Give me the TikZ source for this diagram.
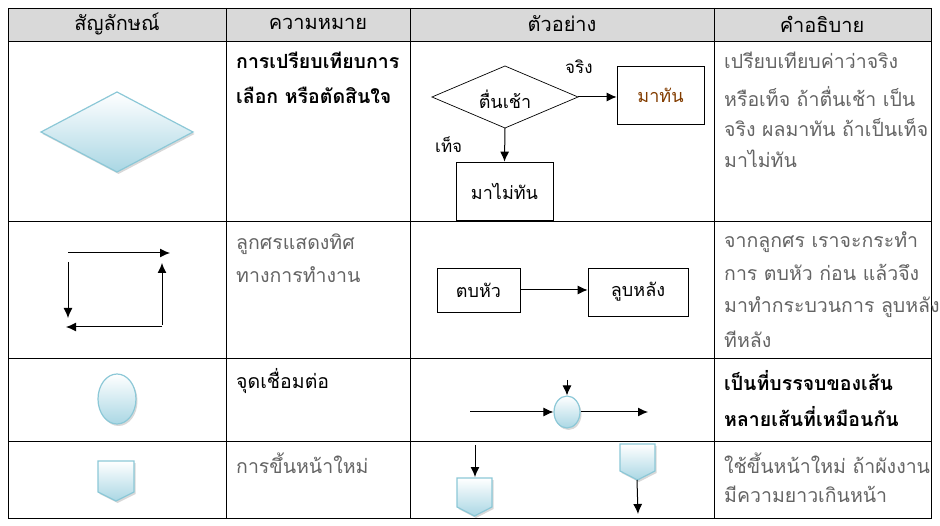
\documentclass[tikz,border=0pt]{standalone}
\usepackage{fontspec}
\setmainfont{Loma}[Script=Thai]
\usetikzlibrary{shadows,arrows.meta,shapes.geometric}
\definecolor{sym}{RGB}{140,200,215}
\definecolor{symfill}{RGB}{170,215,228}
\definecolor{hdr}{RGB}{217,217,217}
\definecolor{txtgrey}{RGB}{100,100,100}
\tikzset{
  grid/.style={line width=0.9pt},
  symshape/.style={draw=sym,line width=1.2pt,top color=white,bottom color=symfill,drop shadow={shadow xshift=1.5pt,shadow yshift=-2pt,fill=gray!60}},
  ex/.style={draw,line width=0.7pt,minimum height=44pt,font=\fontsize{18}{20}\selectfont},
  arr/.style={-{Latex[length=10pt,width=9pt]},line width=1pt},
  hd/.style={font=\fontsize{20}{22}\selectfont},
  tx/.style={anchor=west,inner sep=0pt,font=\fontsize{19.5}{21}\selectfont},
  bx/.style={anchor=west,inner sep=0pt,font=\fontsize{19.5}{21}\selectfont\bfseries},
}
\begin{document}
\begin{tikzpicture}[x=1pt,y=-1pt]
\useasboundingbox (0,0) rectangle (940,526);
\fill[hdr] (8,8) rectangle (931,41);
\draw[grid] (8,8) rectangle (931,518);
\foreach \y in {41,221,358,441} \draw[grid] (8,\y) -- (931,\y);
\foreach \x in {226,410,714} \draw[grid] (\x,8) -- (\x,518);
\node[hd] (h1) at (117,24) {สัญลักษณ์};
\node[hd] (h2) at (318,24) {ความหมาย};
\node[hd] (h3) at (562,24) {ตัวอย่าง};
\node[hd] (h4) at (822,24) {คำอธิบาย};
% row 1
\path[symshape] (41,132) -- (117,92) -- (193,132) -- (117,172) -- cycle;
\node[bx] (m1a) at (236,60) {การเปรียบเทียบการ};
\node[bx] (m1b) at (236,95) {เลือก หรือตัดสินใจ};
\draw[line width=0.7pt] (432,97) coordinate (dl) -- (505,66) coordinate (dt) -- (578,97) coordinate (dr) -- (505,128) coordinate (db) -- cycle;
\node[font=\fontsize{18}{20}\selectfont] (d) at (505,99) {ตื่นเช้า};
\node[ex,minimum width=87pt,minimum height=58pt] (yes) at (660.5,95) {\color[RGB]{130,60,0}มาทัน};
\node[ex,minimum width=97pt,minimum height=58pt] (no) at (504.5,191) {มาไม่ทัน};
\draw[arr] (dr) -- (yes.west|-dr);
\draw[arr] (db) -- (no.north);
\node[tx,font=\fontsize{17}{19}\selectfont] (t) at (565,67) {จริง};
\node[tx,font=\fontsize{17}{19}\selectfont] (f) at (435,145) {เท็จ};
\node[tx,text=txtgrey] (e1a) at (724,60) {เปรียบเทียบค่าว่าจริง};
\node[tx,text=txtgrey] (e1b) at (724,97) {หรือเท็จ ถ้าตื่นเช้า เป็น};
\node[tx,text=txtgrey] (e1c) at (724,128) {จริง ผลมาทัน ถ้าเป็นเท็จ};
\node[tx,text=txtgrey] (e1d) at (724,159) {มาไม่ทัน};
% row 2
\coordinate (a1) at (68,253); \coordinate (a2) at (170,253);
\coordinate (b1) at (162,325); \coordinate (b2) at (162,263);
\coordinate (c1) at (162,327); \coordinate (c2) at (66,327);
\coordinate (e1) at (68,262); \coordinate (e2) at (68,318);
\draw[arr] (a1) -- (a2); \draw[arr] (b1) -- (b2);
\draw[arr] (c1) -- (c2); \draw[arr] (e1) -- (e2);
\node[tx,text=txtgrey] (m2a) at (236,244) {ลูกศรแสดงทิศ};
\node[tx,text=txtgrey] (m2b) at (236,275) {ทางการทำงาน};
\node[ex,minimum width=83pt] (p) at (478.5,290) {ตบหัว};
\node[ex,minimum width=100pt,minimum height=48pt] (q) at (638,292) {ลูบหลัง};
\draw[arr] (p.east|-p) -- (q.west|-p);
\node[tx,text=txtgrey] (e2a) at (724,242) {จากลูกศร เราจะกระทำ};
\node[tx,text=txtgrey] (e2b) at (724,272) {การ ตบหัว ก่อน แล้วจึง};
\node[tx,text=txtgrey] (e2c) at (724,307) {มาทำกระบวนการ ลูบหลัง};
\node[tx,text=txtgrey] (e2d) at (724,339) {ทีหลัง};
% row 3
\node[symshape,ellipse,minimum width=38pt,minimum height=50pt,inner sep=0pt] (c) at (117,399) {};
\node[tx] (m3) at (236,381) {จุดเชื่อมต่อ};
\node[symshape,ellipse,minimum width=26pt,minimum height=32pt,inner sep=0pt] (j) at (567,412) {};
\coordinate (j1) at (470,412); \coordinate (j2) at (648,412); \coordinate (j3) at (567,380);
\draw[arr] (j1) -- (j.west); \draw[arr] (j.east) -- (j2); \draw[arr] (j3) -- (j.north);
\node[bx] (e3a) at (724,381) {เป็นที่บรรจบของเส้น};
\node[bx] (e3b) at (724,417) {หลายเส้นที่เหมือนกัน};
% row 4
\path[symshape] (98,461) -- (134,461) -- (134,492) -- (116,501) -- (98,492) -- cycle;
\node[tx,text=txtgrey] (m4) at (236,463) {การขึ้นหน้าใหม่};
\path[symshape] (457,478) -- (492,478) -- (492,507) -- (474.5,516) -- (457,507) -- cycle;
\coordinate (k1) at (475,445); \coordinate (k2) at (475,477);
\draw[arr] (k1) -- (k2);
\path[symshape] (620,444) -- (655,444) -- (655,471) -- (637.5,480) -- (620,471) -- cycle;
\coordinate (l1) at (637,480); \coordinate (l2) at (638,514);
\draw[arr] (l1) -- (l2);
\node[tx,text=txtgrey] (e4a) at (724,463) {ใช้ขึ้นหน้าใหม่ ถ้าผังงาน};
\node[tx,text=txtgrey] (e4b) at (724,494) {มีความยาวเกินหน้า};
\end{tikzpicture}
\end{document}
